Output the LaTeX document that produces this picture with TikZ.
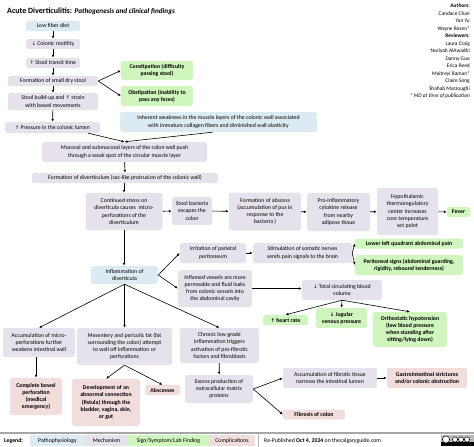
\documentclass[tikz,border=0pt]{standalone}
\usepackage{fontspec}
\setmainfont{Carlito}
\newfontfamily\symf{DejaVu Sans}
\usetikzlibrary{arrows.meta,calc}
\definecolor{pblue}{HTML}{DCEAF1}
\definecolor{mgrey}{HTML}{E6E2EC}
\definecolor{sgreen}{HTML}{CFF6BC}
\definecolor{cpink}{HTML}{F1DEDC}
\newcommand\upar{{\symf\fontsize{5}{7}\selectfont ↑}}
\newcommand\dnar{{\symf\fontsize{5}{7}\selectfont ↓}}
\tikzset{
 box/.style={rounded corners=2.5pt, align=center, inner sep=1pt, font=\fontsize{5.8}{7.1}\selectfont},
 patho/.style={box, fill=pblue},
 mech/.style={box, fill=mgrey},
 sign/.style={box, fill=sgreen, font=\fontsize{5.8}{7.1}\selectfont\bfseries},
 comp/.style={box, fill=cpink, font=\fontsize{5.8}{7.1}\selectfont\bfseries},
 sz/.style 2 args={minimum width=#1pt, minimum height=#2pt},
 arr/.style={-{Latex[length=3pt,width=2.6pt]}, line width=0.6pt},
 legbox/.style={inner sep=1pt, minimum height=11pt, font=\fontsize{5.8}{7}\selectfont}
}
\begin{document}
\begin{tikzpicture}[x=1pt,y=-1pt]
\useasboundingbox (0,0) rectangle (474,447);
% title
\node[anchor=base west, inner sep=0pt] (title) at (7,13) {\fontsize{8}{9}\selectfont\bfseries Acute Diverticulitis: \itshape\fontsize{7.2}{9}\selectfont Pathogenesis and clinical findings};
% authors
\node[anchor=north east, align=right, inner sep=0pt, font=\fontsize{5.4}{7.5}\selectfont] (auth) at (470,4) {\textbf{Authors:}\\Candace Chan\\Yan Yu\\Wayne Rosen*\\\textbf{Reviewers:}\\Laura Craig\\Noriyah AlAwadhi\\Danny Guo\\Erica Reed\\Maitreyi Raman*\\Claire Song\\Shahab Marzoughi\\\textit{* MD at time of publication}};
% left column
\node[patho, sz={54}{10}] (lfd) at (53,26) {Low fiber diet};
\node[mech, sz={54}{10}] (cm) at (53,44) {\dnar\ Colonic motility};
\node[mech, sz={54}{10}] (stt) at (53,63) {\upar\ Stool transit time};
\node[mech, sz={90}{10}] (fsd) at (53,81) {Formation of small dry stool};
\node[mech, sz={90}{17}] (sbu) at (53,101.5) {Stool build-up and \upar\ strain\\with bowel movements};
\node[mech, sz={95}{11}] (pcl) at (52.5,127.5) {\upar\ Pressure in the colonic lumen};
\node[sign, sz={72}{19}] (con) at (157,70.5) {Constipation (difficulty\\passing stool)};
\node[sign, sz={72}{20}] (obs) at (157,96) {Obstipation (inability to\\pass any feces)};
\node[patho, sz={197}{20}] (inh) at (218.5,122) {Inherent weakness in the muscle layers of the colonic wall associated\\with immature collagen fibers and diminished wall elasticity};
\node[mech, sz={165}{20}] (mus) at (124.5,152) {Mucosal and submucosal layers of the colon wall push\\through a weak spot of the circular muscle layer};
\node[mech, sz={186}{10}] (fdv) at (125,178) {Formation of diverticulum (sac-like protrusion of the colonic wall)};
% row
\node[mech, sz={77}{37}] (cs) at (124,211.5) {Continued stress on\\diverticula causes\ \ micro-\\perforations of the\\diverticulum};
\node[mech, sz={40}{28}] (sb) at (192,211) {Stool bacteria\\escapes the\\colon};
\node[mech, sz={72}{38}] (fab) at (265,211.5) {Formation of abscess\\(accumulation of pus in\\response to the\\bacteria )};
\node[mech, sz={63}{38}] (pic) at (338.5,212) {Pro-inflammatory\\cytokine release\\from nearby\\adipose tissue};
\node[mech, sz={61}{47}] (hyp) at (407.5,211.5) {Hypothalamic\\thermoregulatory\\center increases\\core temperature\\set point};
\node[sign, sz={23}{10}] (fev) at (458.5,212) {Fever};
% inflammation
\node[patho, sz={67}{18}] (inf) at (124.5,275) {Inflammation of\\diverticula};
\node[mech, sz={66}{20}] (irr) at (213,253) {Irritation of parietal\\peritoneum};
\node[mech, sz={99}{20}] (sti) at (302.5,253) {Stimulation of somatic nerves\\sends pain signals to the brain};
\node[sign, sz={108}{10}] (llq) at (409,243.5) {Lower left quadrant abdominal pain};
\node[sign, sz={108}{20}] (per) at (409,265) {Peritoneal signs (abdominal guarding,\\rigidity, rebound tenderness)};
\node[mech, sz={74}{37}] (ifv) at (215,288.5) {Inflamed vessels are more\\permeable and fluid leaks\\from colonic vessels into\\the abdominal cavity};
\node[mech, sz={80}{20}] (tcb) at (342,290) {\dnar\ Total circulating blood\\volume};
\node[sign, sz={45}{10}] (hr) at (285.5,320) {\upar\ heart rate};
\node[sign, sz={51}{20}] (jvp) at (341.5,318) {\dnar\ Jugular\\venous pressure};
\node[sign, sz={74}{35}] (oh) at (410,329.5) {Orthostatic hypotension\\(low blood pressure\\when standing after\\sitting/lying down)};
% lower
\node[mech, sz={72}{29}] (amp) at (39,342.5) {Accumulation of micro-\\perforations further\\weakens intestinal wall};
\node[mech, sz={95}{37}] (mes) at (124.5,346.5) {Mesentery and pericolic fat (fat\\surrounding the colon) attempt\\to wall off inflammation or\\perforations};
\node[mech, sz={79}{35}] (chr) at (219.5,345.5) {Chronic low-grade\\inflammation triggers\\activation of pro-fibrotic\\factors and fibroblasts};
\node[comp, sz={52}{37}] (cbp) at (36,396.5) {Complete bowel\\perforation\\(medical\\emergency)};
\node[comp, sz={68}{47}] (dev) at (106,402.5) {Development of an\\abnormal connection\\(fistula) through the\\bladder, vagina, skin,\\or gut};
\node[comp, sz={35}{10}] (abs) at (162.5,390) {Abscesses};
\node[mech, sz={68}{28}] (exc) at (219,389) {Excess production of\\extracellular matrix\\proteins};
\node[mech, sz={94}{20}] (aft) at (330,378) {Accumulation of fibrotic tissue\\narrows the intestinal lumen};
\node[comp, sz={80}{20}] (gis) at (427,378) {Gastrointestinal strictures\\and/or colonic obstruction};
\node[comp, sz={62}{10}] (foc) at (314,414.5) {Fibrosis of colon};
% connectors
\draw[arr] (lfd) -- (cm);
\draw[arr] (cm) -- (stt);
\draw[arr] (stt) -- (fsd);
\draw[arr] (fsd) -- (sbu);
\draw[arr] (sbu) -- (pcl);
\draw[arr] (fsd.east) -- (con.west);
\draw[arr] (fsd.east) -- (obs.west);
\draw[arr] ($(pcl.south east)+(-12,0)$) -- (mus.north);
\draw[arr] ($(inh.south)+(-6,0)$) -- (mus.north);
\draw[arr] (mus) -- (fdv);
\draw[arr] (fdv.south -| cs.north) -- (cs.north);
\draw[arr] (cs) -- (sb);
\draw[arr] (sb) -- (fab);
\draw[arr] (fab) -- (pic);
\draw[arr] (pic) -- (hyp);
\draw[arr] (hyp) -- (fev);
\draw[arr] (cs.south) -- (cs.south |- inf.north);
\draw[arr] (inf.east) -- (irr.west);
\draw[arr] (inf.east) -- (ifv.west);
\draw[arr] (irr) -- (sti);
\draw[arr] (sti.east) -- (llq.west);
\draw[arr] (sti.east) -- (per.west);
\draw[arr] (ifv.east) -- (ifv.east -| tcb.west);
\draw[arr] (tcb.south) -- (hr.north);
\draw[arr] (tcb.south) -- (jvp.north);
\draw[arr] (tcb.south) -- (oh.north);
\draw[arr] (inf.south) -- (amp.north);
\draw[arr] (inf.south) -- (mes.north);
\draw[arr] (inf.south) -- (chr.north);
\draw[arr] (amp.south -| cbp.north) -- (cbp.north);
\draw[arr] (mes.south) -- (dev.north);
\draw[arr] (mes.south) -- (abs.north);
\draw[arr] (chr) -- (exc);
\draw[arr] (exc.east) -- (aft.west);
\draw[arr] (exc.east) -- (foc.west);
\draw[arr] (aft) -- (gis);
% legend
\draw[gray!70, line width=1.6pt] (0,433) -- (474,433);
\node[anchor=west, inner sep=0pt, font=\fontsize{5.8}{7}\selectfont\bfseries] (leg) at (4,440.5) {Legend:};
\node[legbox, fill=pblue, minimum width=55pt] (l1) at (57.5,440.5) {Pathophysiology};
\node[legbox, fill=mgrey, minimum width=43pt] (l2) at (106.5,440.5) {Mechanism};
\node[legbox, fill=sgreen, minimum width=81pt] (l3) at (168.5,440.5) {Sign/Symptom/Lab Finding};
\node[legbox, fill=cpink, minimum width=46pt] (l4) at (232,440.5) {Complications};
\draw[gray!60, line width=0.5pt] (258,434) -- (258,447);
\node[anchor=west, inner sep=0pt, font=\fontsize{5.8}{7}\selectfont] (rep) at (264,440.5) {Re-Published \textbf{Oct 4, 2024} on thecalgaryguide.com};
% cc badge
\fill[gray!55] (441,435) rectangle (474,446);
\fill[black] (441,442) rectangle (474,446);
\draw[black, fill=white, line width=0.5pt] (446,439.5) circle (3.6);
\draw[black, fill=white, line width=0.5pt] (455,439.5) circle (2.6);
\draw[black, fill=white, line width=0.5pt] (461,439.5) circle (2.6);
\draw[black, fill=white, line width=0.5pt] (467,439.5) circle (2.6);
\end{tikzpicture}
\end{document}
